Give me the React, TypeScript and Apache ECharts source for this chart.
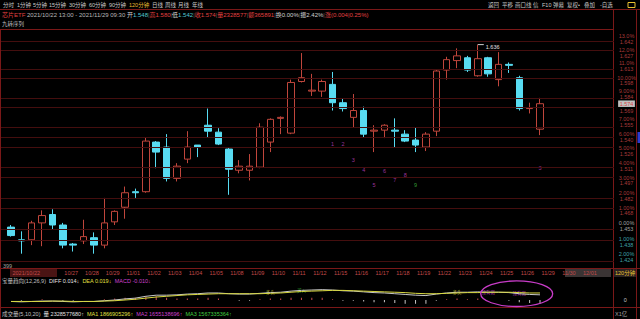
import { useEffect, useRef } from 'react';
import * as echarts from 'echarts';

const FONT = '"Liberation Sans","Noto Sans CJK SC",sans-serif';
const FS = 5.5;
const HFS = 6;

// ---------- data ----------
const firstBar = '2021/10/22 13:00';
const tradeDays = ['10/25','10/26','10/27','10/28','10/29','11/01','11/02','11/03','11/04','11/05','11/08','11/09','11/10','11/11','11/12','11/15','11/16','11/17','11/18','11/19','11/22','11/23','11/24','11/25','11/26','11/29','11/30','12/01','12/02'];
const barTimes = ['09:30', '13:00'];
const hiddenDayLabels = ['10/25', '10/26', '12/02'];

const opens = [1.452,1.440,1.440,1.456,1.464,1.454,1.436,1.439,1.442,1.435,1.457,1.471,1.486,1.486,1.535,1.530,1.499,1.518,1.532,1.552,1.545,1.528,1.507,1.507,1.510,1.535,1.559,1.544,1.597,1.587,1.587,1.594,1.575,1.560,1.567,1.546,1.547,1.547,1.543,1.537,1.530,1.546,1.609,1.619,1.622,1.603,1.622,1.599,1.615,1.601,1.569,1.548];
const closes = [1.444,1.439,1.456,1.463,1.454,1.435,1.435,1.443,1.435,1.456,1.467,1.485,1.485,1.536,1.525,1.499,1.511,1.530,1.530,1.546,1.533,1.508,1.511,1.511,1.550,1.558,1.560,1.596,1.601,1.588,1.597,1.575,1.569,1.567,1.543,1.547,1.552,1.546,1.536,1.532,1.543,1.608,1.620,1.624,1.609,1.621,1.605,1.615,1.614,1.569,1.570,1.574];
const lows = [1.443,1.427,1.435,1.434,1.450,1.432,1.429,1.436,1.427,1.432,1.454,1.460,1.480,1.485,1.509,1.496,1.496,1.514,1.520,1.540,1.532,1.483,1.504,1.497,1.509,1.525,1.543,1.543,1.596,1.582,1.581,1.567,1.566,1.550,1.540,1.525,1.539,1.530,1.535,1.525,1.526,1.541,1.599,1.611,1.607,1.602,1.602,1.592,1.606,1.567,1.564,1.542];
const highs = [1.454,1.448,1.458,1.468,1.469,1.456,1.437,1.459,1.447,1.480,1.468,1.491,1.489,1.540,1.536,1.543,1.514,1.546,1.532,1.569,1.549,1.529,1.517,1.523,1.554,1.559,1.561,1.599,1.627,1.605,1.599,1.607,1.579,1.584,1.571,1.552,1.553,1.559,1.547,1.550,1.545,1.609,1.623,1.632,1.624,1.636,1.623,1.628,1.617,1.603,1.575,1.580];

const basePrice = 1.453;
const levelPrices = [1.642,1.627,1.613,1.598,1.584,1.569,1.555,1.540,1.526,1.511,1.497,1.482,1.468,1.453,1.438,1.424];
// the 8.00% label is hidden behind the current-price marker in the reference
const levelPcts = ['13.0%','12.0%','11.0%','10.00%','9.00%','','7.00%','6.00%','5.00%','4.00%','3.00%','2.00%','1.00%','0.00%','1.00%','2.00%'];

const tdIndex = [31,32,33,34,35,36,37,38,39,51];
const tdCount = [1,2,3,4,5,6,7,8,9,3];

const diff = [-0.004,-0.005,-0.004,-0.003,-0.003,-0.004,-0.005,-0.004,-0.004,-0.002,0.000,0.003,0.005,0.010,0.013,0.013,0.014,0.016,0.017,0.019,0.019,0.017,0.016,0.016,0.018,0.020,0.021,0.024,0.026,0.027,0.028,0.027,0.025,0.024,0.022,0.020,0.019,0.017,0.015,0.013,0.012,0.016,0.019,0.021,0.021,0.022,0.021,0.021,0.020,0.017,0.015,0.014];
const dea = [-0.004,-0.004,-0.004,-0.004,-0.003,-0.003,-0.004,-0.004,-0.004,-0.003,-0.002,0.000,0.002,0.005,0.008,0.010,0.012,0.014,0.015,0.016,0.017,0.017,0.017,0.017,0.017,0.018,0.019,0.021,0.023,0.024,0.025,0.026,0.026,0.025,0.024,0.023,0.022,0.021,0.020,0.018,0.017,0.017,0.018,0.019,0.020,0.020,0.021,0.021,0.021,0.020,0.019,0.019];
const macd = [0.000,-0.002,0.000,0.002,0.000,-0.002,-0.002,0.000,0.000,0.002,0.004,0.006,0.006,0.010,0.010,0.006,0.004,0.004,0.004,0.006,0.004,0.000,-0.002,-0.002,0.002,0.004,0.004,0.006,0.006,0.006,0.006,0.002,-0.002,-0.002,-0.004,-0.006,-0.006,-0.008,-0.010,-0.010,-0.010,-0.002,0.002,0.004,0.002,0.004,0.000,0.000,-0.002,-0.006,-0.008,-0.010];

const sigIdx = [25, 28, 43, 46, 49];
const sigText = ['多头', '买入', '多头', '顶背离', '顶背离'];
const sigColor = ['#d8d040', '#40d040', '#d8d040', '#d040d0', '#d040d0'];

const volText = { vol: '2328577680', ma1: '1866905296', ma2: '1655138696', ma3: '1567335364' };
const headerText = { name: '芯片ETF', range: '2021/10/22 13:00 - 2021/11/29 09:30', amount: '2328577', money: '365891', turnover: '0.00%', amp: '2.42%' };

// ---------- colours ----------
const BG = '#000000';
const GRID = '#440e0e';
const BORDER = '#7a1818';
const UP = '#c0463c';
const DOWN = '#58dcf2';
const TXT = '#c8c8c8';
const RTXT = '#d04848';
const CTXT = '#50c8d0';

const categories = [firstBar, ...tradeDays.flatMap((d) => barTimes.map((t) => `${d} ${t}`))];

function buildOption() {
  const last = closes.length - 1;
  const prevClose = closes[last - 1];
  const chg = closes[last] - prevClose;
  const maxHigh = Math.max(...highs);
  const maxIdx = highs.indexOf(maxHigh);

  const gridLeft = 5.81;
  const gridWidth = 612;
  const mainTop = 30;
  const mainH = 234;
  const yMin = 1.4174;
  const yMax = 1.6517;

  const lvColor = (v: number) => (v > basePrice ? RTXT : v < basePrice ? CTXT : TXT);

  const menu = ['分时','1分钟','5分钟','15分钟','30分钟','60分钟','90分钟','120分钟','日线','周线','月线','年线'];
  const menuX = [3,17,33,49,69,89,109,129,152,165,178,192];
  const rmenu = ['返回','平移','画口线','信','F10','弹幕','复权•','叠加','-自选'];
  const rmenuX = [488,502,515,533,542,553,567,584,600];

  const graphics: any[] = [];
  const line = (x1: number, y1: number, x2: number, y2: number, c = BORDER) =>
    graphics.push({ type: 'line', silent: true, z: 1, shape: { x1, y1, x2, y2 }, style: { stroke: c, lineWidth: 1 } });
  const text = (x: number, y: number, t: string, fill: string, extra: any = {}) =>
    graphics.push({ type: 'text', silent: true, z: 3, x, y, style: { text: t, fill, fontSize: FS, fontFamily: FONT, verticalAlign: 'middle', align: 'left', ...extra } });

  line(0, 9.5, 640, 9.5);
  line(0, 29.5, 614, 29.5);
  line(0.5, 29.5, 0.5, 319);
  line(613.5, 9.5, 613.5, 319);
  line(636.5, 9.5, 636.5, 319);
  line(0, 268.5, 640, 268.5);
  line(0, 307.5, 640, 307.5);

  menu.forEach((m, k) => text(menuX[k], 5.2, m, k === 7 ? '#e8b830' : TXT));
  rmenu.forEach((m, k) => text(rmenuX[k], 5.2, m, TXT));
  graphics.push({ type: 'rect', silent: true, z: 3, shape: { x: 628, y: 2.5, width: 7, height: 5 }, style: { fill: 'none', stroke: '#e8c030', lineWidth: 1 } });
  graphics.push({ type: 'rect', silent: true, z: 3, shape: { x: 637.5, y: 132, width: 2.5, height: 11 }, style: { fill: '#2a3ad0' } });

  const hs = (fill: string) => ({ fill, fontSize: HFS, fontFamily: FONT });
  graphics.push({
    type: 'text', silent: true, z: 3, x: 2, y: 14.5,
    style: {
      text: `{r|${headerText.name}} {g|${headerText.range}} {w|开}{c|${opens[last].toFixed(3)}}{s||}{r|高${highs[last].toFixed(3)}}{s||}{w|低}{c|${lows[last].toFixed(3)}}{s||}{r|收${closes[last].toFixed(3)}}{s||}{r|量${headerText.amount}}{s||}{r|额${headerText.money}}{s||}{w|换${headerText.turnover}}{s||}{w|振${headerText.amp}}{s||}{r|涨(${chg.toFixed(3)}|${((chg / prevClose) * 100).toFixed(2)}%)}`,
      fontSize: HFS, fontFamily: FONT, verticalAlign: 'middle', fill: TXT,
      rich: { r: hs('#e04040'), g: hs('#b8b8b8'), w: hs('#d0d0d0'), c: hs(CTXT), s: hs('#606060') },
    },
  });
  text(2, 24, '九转序列', '#c0c0c0');
  text(3, 265.5, '399', '#a0a0a0');

  // date row boxes
  graphics.push({ type: 'rect', silent: true, z: 1, shape: { x: 10, y: 269, width: 47, height: 8 }, style: { fill: '#4a1414' } });
  graphics.push({ type: 'rect', silent: true, z: 1, shape: { x: 565, y: 269, width: 46, height: 8 }, style: { fill: '#3a3434' } });
  graphics.push({ type: 'rect', silent: true, z: 1, shape: { x: 614, y: 269, width: 22, height: 8 }, style: { fill: '#2a2222' } });
  text(615, 273, '120分钟', '#e8c030');

  const fs = (fill: string) => ({ fill, fontSize: FS, fontFamily: FONT });
  graphics.push({
    type: 'text', silent: true, z: 3, x: 2, y: 281,
    style: {
      text: `{g|宝量趋向(12,26,9)}  {w|DIFF ${diff[last].toFixed(3)}↓}  {y|DEA ${dea[last].toFixed(3)}↓}  {m|MACD ${macd[last].toFixed(3)}↓}`,
      fontSize: FS, fontFamily: FONT, verticalAlign: 'middle', fill: TXT,
      rich: { g: fs('#c0c0c0'), w: fs('#e0e0e0'), y: fs('#e0e040'), m: fs('#d040d0') },
    },
  });
  graphics.push({
    type: 'text', silent: true, z: 3, x: 2, y: 313.5,
    style: {
      text: `{g|成交量(5,10,20)}  {w|量 ${volText.vol}↑}  {y|MA1 ${volText.ma1}↑}  {m|MA2 ${volText.ma2}↑}  {n|MA3 ${volText.ma3}↑}`,
      fontSize: FS, fontFamily: FONT, verticalAlign: 'middle', fill: TXT,
      rich: { g: fs('#c0c0c0'), w: fs('#e0e0e0'), y: fs('#e0e040'), m: fs('#d040d0'), n: fs('#40d040') },
    },
  });
  text(615, 313.5, 'X1亿', '#a0a0a0');

  graphics.push({ type: 'ellipse', silent: true, z: 20, shape: { cx: 516.7, cy: 293.7, rx: 36, ry: 12.8 }, style: { fill: 'none', stroke: '#c83cc8', lineWidth: 1.3 } });

  const hidden = (val: string) => hiddenDayLabels.includes(val.split(' ')[0]);
  const axisLabelSeries = (data: any[], offsetY: number, fmt: (i: number) => string, extra: any = {}) => ({
    type: 'scatter', xAxisIndex: 1, yAxisIndex: 1, silent: true, symbolSize: 0.1, clip: false,
    itemStyle: { color: 'rgba(0,0,0,0)' },
    data,
    label: { show: true, position: 'inside', offset: [12.5, offsetY], fontSize: FS, fontFamily: FONT, formatter: (p: any) => fmt(p.dataIndex), ...extra },
    ...(extra.z ? { z: extra.z } : {}),
  });

  return {
    animation: false,
    backgroundColor: BG,
    textStyle: { fontFamily: FONT },
    grid: [
      { left: gridLeft, width: gridWidth, top: mainTop, height: mainH },
      { left: 1, width: 613, top: mainTop, height: mainH },
      { left: gridLeft, width: gridWidth, top: 283, height: 24 },
    ],
    xAxis: [
      {
        type: 'category', gridIndex: 0, data: categories, z: 10,
        axisLine: { show: false }, axisTick: { show: false }, splitLine: { show: false },
        axisLabel: {
          interval: (idx: number, val: string) => idx === 0 || (val.endsWith('09:30') && !hidden(val)),
          formatter: (v: string) => v.split(' ')[0],
          color: '#c44a4a', fontSize: FS, fontFamily: FONT, align: 'left', margin: 6, padding: [0, 0, 0, 1.5],
        },
      },
      { type: 'value', gridIndex: 1, min: 0, max: 1, show: false },
      { type: 'category', gridIndex: 2, data: categories, show: false },
    ],
    yAxis: [
      { type: 'log', gridIndex: 0, min: yMin, max: yMax, show: false, splitLine: { show: false } },
      { type: 'log', gridIndex: 1, min: yMin, max: yMax, show: false, splitLine: { show: false } },
      { type: 'value', gridIndex: 2, min: -0.019, max: 0.046, show: false, splitLine: { show: false } },
    ],
    series: [
      // horizontal grid lines
      {
        type: 'line', xAxisIndex: 1, yAxisIndex: 1, silent: true, symbol: 'none',
        data: [[0, basePrice], [1, basePrice]], lineStyle: { color: 'rgba(0,0,0,0)' },
        markLine: {
          silent: true, symbol: ['none', 'none'], animation: false,
          lineStyle: { color: GRID, width: 1, type: 'solid' },
          label: { show: false },
          data: levelPrices.map((v) => ({ yAxis: v })),
        },
      },
      // percent labels above each line, price labels below
      axisLabelSeries(levelPrices.map((v) => ({ value: [1, v], label: { color: lvColor(v) } })), -2.8, (i) => levelPcts[i]),
      axisLabelSeries(levelPrices.map((v) => ({ value: [1, v], label: { color: lvColor(v) } })), 2.9, (i) => levelPrices[i].toFixed(3)),
      {
        type: 'candlestick', xAxisIndex: 0, yAxisIndex: 0, barWidth: 7,
        data: opens.map((o, i) => [o, closes[i], lows[i], highs[i]]),
        itemStyle: { color: BG, color0: DOWN, borderColor: UP, borderColor0: DOWN, borderWidth: 1 },
        markPoint: {
          silent: true, symbol: 'rect', symbolSize: [6, 1], symbolOffset: [3, 0],
          itemStyle: { color: '#d0d0d0' },
          label: { show: true, position: 'right', distance: 2, offset: [0, 2.5], color: '#e0e0e0', fontSize: FS, fontFamily: FONT, formatter: () => maxHigh.toFixed(3) },
          data: [{ coord: [maxIdx, maxHigh] }],
        },
      },
      {
        type: 'scatter', xAxisIndex: 0, yAxisIndex: 0, silent: true, symbolSize: 1,
        itemStyle: { color: 'rgba(0,0,0,0)' },
        data: tdIndex.map((i, k) => ({
          value: [i, lows[i]],
          label: { color: tdCount[k] === 9 ? '#40c040' : '#c040c0' },
        })),
        label: { show: true, position: 'inside', offset: [0, 33], fontSize: FS, fontFamily: FONT, formatter: (p: any) => String(tdCount[p.dataIndex]) },
      },
      // current price marker
      {
        ...axisLabelSeries([{ value: [1, closes[last]] }], 0, () => closes[last].toFixed(3), {
          color: '#e02020', backgroundColor: '#f0f0f0', padding: [0.5, 1.5, 0.5, 1.5],
        }),
        z: 5,
      },
      {
        type: 'bar', xAxisIndex: 2, yAxisIndex: 2, barWidth: 1, silent: true,
        data: macd.map((v) => ({ value: v, itemStyle: { color: v >= 0 ? '#c85050' : '#c8c8c8' } })),
      },
      {
        type: 'line', xAxisIndex: 2, yAxisIndex: 2, data: diff, symbol: 'none', silent: true,
        lineStyle: { color: '#c8c8c8', width: 1 },
        markLine: {
          silent: true, symbol: ['none', 'none'], animation: false,
          lineStyle: { color: 'rgba(0,0,0,0)', width: 0 },
          label: { show: true, position: 'end', distance: 6, formatter: '0', color: TXT, fontSize: FS, fontFamily: FONT },
          data: [{ yAxis: 0 }],
        },
      },
      {
        type: 'line', xAxisIndex: 2, yAxisIndex: 2, data: dea, symbol: 'none', silent: true,
        lineStyle: { color: '#d8d840', width: 1 },
      },
      {
        type: 'scatter', xAxisIndex: 2, yAxisIndex: 2, silent: true, symbolSize: 1,
        itemStyle: { color: 'rgba(0,0,0,0)' },
        data: sigIdx.map((i, k) => ({ value: [i, diff[i]], label: { color: sigColor[k] } })),
        label: { show: true, position: 'inside', fontSize: 4.5, fontFamily: FONT, formatter: (p: any) => sigText[p.dataIndex] },
      },
    ],
    graphic: { elements: graphics },
  };
}

export default function App() {
  const ref = useRef<HTMLDivElement>(null);
  useEffect(() => {
    if (!ref.current) return;
    const chart = echarts.init(ref.current, undefined, { renderer: 'svg' });
    chart.setOption(buildOption() as any);
    return () => chart.dispose();
  }, []);
  return <div ref={ref} style={{ position: 'fixed', left: 0, top: 0, width: 640, height: 319, background: '#000' }} />;
}
